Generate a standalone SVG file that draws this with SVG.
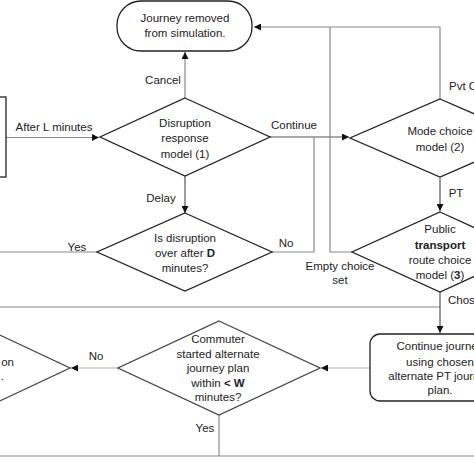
<svg xmlns="http://www.w3.org/2000/svg" width="474" height="474" viewBox="0 0 474 474">
<defs>
<style>
text{font-family:"Liberation Sans",Arial,sans-serif;font-size:11.5px;fill:#222;text-anchor:middle}
.sh{fill:#fff;stroke:#222;stroke-width:1.3}
.c{fill:none;stroke:#888;stroke-width:1.2}
.cd{fill:none;stroke:#555;stroke-width:1.2}
.cl{fill:none;stroke:#c8c8c8;stroke-width:1.3}
b{font-weight:bold}
</style>
<marker id="a" viewBox="0 0 10 10" refX="10" refY="5" markerWidth="7" markerHeight="7" orient="auto" markerUnits="userSpaceOnUse">
<path d="M0,0L10,5L0,10z" fill="#111"/>
</marker>
</defs>
<rect width="474" height="474" fill="#fff"/>
<g id="connectors">
<path class="c" d="M6,137.5H99" marker-end="url(#a)"/>
<path class="c" d="M185,98V52" marker-end="url(#a)"/>
<path class="cd" d="M270,137H349" marker-end="url(#a)"/>
<path class="c" d="M440,99V27H254" marker-end="url(#a)"/>
<path class="c" d="M330,27V252H352"/>
<path class="c" d="M272,252H314V137"/>
<path class="cd" d="M185,176V213" marker-end="url(#a)"/>
<path class="c" d="M97,252H0"/>
<path class="cd" d="M440,178V211" marker-end="url(#a)"/>
<path class="c" d="M0,307H440"/>
<path class="cd" d="M440,292V333" marker-end="url(#a)"/>
<path class="cl" d="M370,368H321" marker-end="url(#a)"/>
<path class="cl" d="M118,368H71" marker-end="url(#a)"/>
<path class="c" d="M219,415V456"/>
<path class="c" d="M0,456H474"/>
</g>
<g id="n_terminal">
<rect class="sh" x="117" y="1" width="135" height="50" rx="24"/>
<text x="185" y="22">Journey removed</text>
<text x="185" y="37">from simulation.</text>
</g>
<g id="n_leftbox">
<rect class="sh" x="-10" y="97" width="16" height="80"/>
</g>
<g id="n_disruption">
<polygon class="sh" points="185,98 270,137 185,176 100,137"/>
<text x="185" y="127">Disruption</text>
<text x="185" y="142">response</text>
<text x="185" y="158">model (1)</text>
</g>
<g id="n_mode">
<polygon class="sh" points="440,99 530,138 440,177 350,138"/>
<text x="440" y="135">Mode choice</text>
<text x="440" y="151">model (2)</text>
</g>
<g id="n_isdisruption">
<polygon class="sh" points="185,213 272,252 185,291 97,252"/>
<text x="185" y="242">Is disruption</text>
<text x="185" y="257">over after <tspan font-weight="bold">D</tspan></text>
<text x="185" y="272">minutes?</text>
</g>
<g id="n_route">
<polygon class="sh" points="440,212 528,252 440,292 352,252"/>
<text x="440" y="233">Public</text>
<text x="440" y="249" font-weight="bold">transport</text>
<text x="440" y="264">route choice</text>
<text x="440" y="279">model (<tspan font-weight="bold">3</tspan>)</text>
</g>
<g id="n_continue">
<rect class="sh" x="370" y="334" width="140" height="67" rx="10"/>
<text x="440" y="350">Continue journey</text>
<text x="440" y="366">using chosen</text>
<text x="440" y="380">alternate PT journey</text>
<text x="440" y="394">plan.</text>
</g>
<g id="n_commuter">
<polygon class="sh" points="219,321 320,368 219,415 118,368" style="stroke:#444"/>
<text x="218" y="343">Commuter</text>
<text x="218" y="358">started alternate</text>
<text x="218" y="372">journey plan</text>
<text x="218" y="387">within <tspan font-weight="bold">&lt; W</tspan></text>
<text x="218" y="401">minutes?</text>
</g>
<g id="n_leftdiamond">
<polygon class="sh" points="-30,321 70,368 -30,415 -130,368" style="stroke:#444"/>
<text x="14" y="366" style="text-anchor:end">on</text>
<text x="4" y="380" style="text-anchor:end">.</text>
</g>
<g id="labels">
<text x="54" y="131">After L minutes</text>
<text x="163" y="84">Cancel</text>
<text x="294" y="129">Continue</text>
<text x="449" y="90" style="text-anchor:start">Pvt Car</text>
<text x="161" y="202">Delay</text>
<text x="77" y="251">Yes</text>
<text x="286" y="247">No</text>
<text x="456" y="197">PT</text>
<text x="340" y="270">Empty choice</text>
<text x="340" y="284">set</text>
<text x="448" y="304" style="text-anchor:start">Chosen</text>
<text x="96" y="360">No</text>
<text x="205" y="432">Yes</text>
</g>
</svg>
